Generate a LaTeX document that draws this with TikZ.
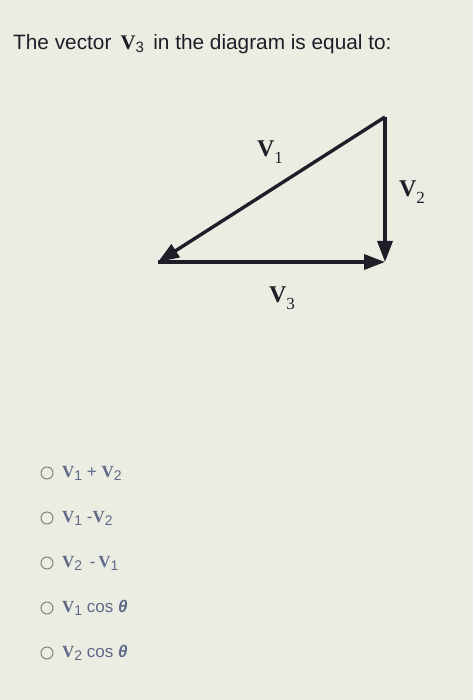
\documentclass[tikz,border=0pt]{standalone}
\usepackage{fontspec}
\setmainfont{Liberation Sans}
\newfontfamily\vfont{Liberation Serif}
\usetikzlibrary{arrows.meta}
\definecolor{bg}{RGB}{236,237,226}
\definecolor{ink}{RGB}{30,30,40}
\definecolor{opt}{RGB}{95,105,135}
\definecolor{ring}{RGB}{130,130,130}
\tikzset{
  vec/.style={draw=ink, line width=3.4pt, -{Triangle[length=21pt,width=15pt]}},
  vlab/.style={text=ink, font=\vfont\fontsize{24}{26}\selectfont\bfseries, inner sep=0pt},
  optlab/.style={text=opt, font=\fontsize{17}{19}\selectfont, anchor=west, inner sep=0pt},
  radio/.style={draw=ring, line width=1pt, circle, minimum size=12pt, inner sep=0pt},
}
\newcommand{\Vb}[1]{{\vfont\bfseries V}\raisebox{-3pt}{\fontsize{14}{15}\selectfont #1}}
\newcommand{\Vl}[1]{V\raisebox{-7pt}{\fontsize{17}{18}\selectfont\mdseries #1}}
\begin{document}
\begin{tikzpicture}[x=1pt,y=-1pt]
\fill[bg] (0,0) rectangle (473,700);
\useasboundingbox (0,0) rectangle (473,700);
\node[anchor=west, inner sep=0pt, text=ink, font=\fontsize{20.8}{22}\selectfont] (title) at (13,44)
  {The vector \,{\vfont\bfseries V}\raisebox{-3pt}{\fontsize{15}{16}\selectfont 3}\, in the diagram is equal to:};
\coordinate (A) at (158,262);
\coordinate (B) at (385,117);
\coordinate (C) at (385,262);
\draw[vec] (B) -- (A);
\draw[vec] (B) -- (C);
\draw[vec] (A) -- (C);
\node[vlab] (l1) at (270,152) {\Vl{1}};
\node[vlab] (l2) at (412,192) {\Vl{2}};
\node[vlab] (l3) at (282,298) {\Vl{3}};
\foreach \y/\t [count=\i] in {473/{\Vb{1} + \Vb{2}}, 518/{\Vb{1} -\Vb{2}}, 563/{\Vb{2} \,-\,\Vb{1}}, 608/{\Vb{1} cos \textbf{\textit{θ}}}, 653/{\Vb{2} cos \textbf{\textit{θ}}}} {
  \node[radio] (r\i) at (47,\y) {};
  \node[optlab] (o\i) at (62,\y) {\t};
}
\end{tikzpicture}
\end{document}
